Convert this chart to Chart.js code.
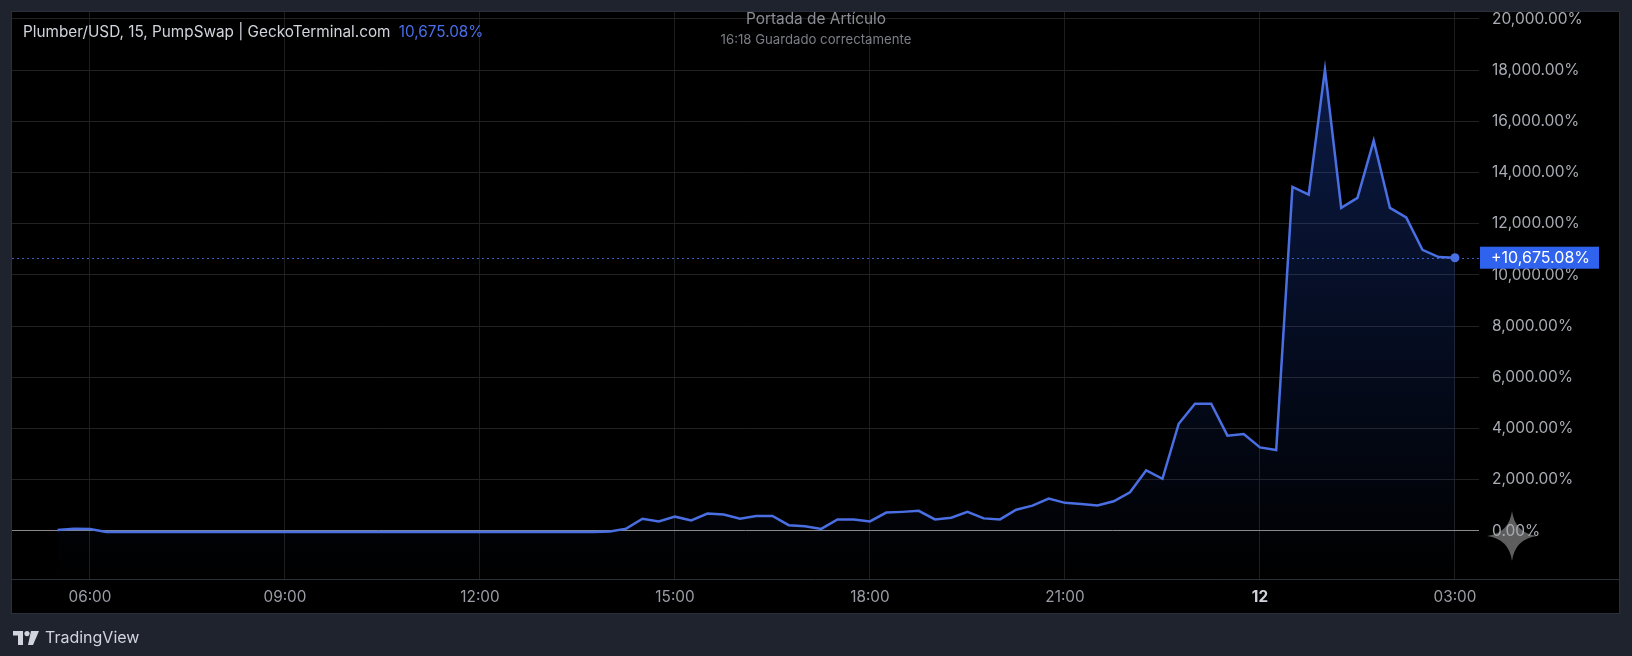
<!DOCTYPE html>
<html><head><meta charset="utf-8">
<script src="https://cdn.jsdelivr.net/npm/chart.js@4.4.1/dist/chart.umd.min.js"></script>
<style>
html,body{margin:0;padding:0;background:#1f232e;width:1632px;height:656px;overflow:hidden;font-family:Inter,"Noto Sans",sans-serif;}
canvas{position:absolute;left:0;top:0;}
.t{position:absolute;white-space:nowrap;}
</style></head><body>
<canvas id="c" width="1632" height="656"></canvas>
<div class="t" style="left:23px;top:23px;font-size:15.3px;line-height:18px;color:#d1d4dc;">Plumber/USD, 15, PumpSwap | GeckoTerminal.com <span style="color:#4a6ee8;margin-left:4px">10,675.08%</span></div>
<div class="t" style="left:816px;top:10px;transform:translateX(-50%);font-size:15.4px;line-height:18px;color:#8b8e96;">Portada de Artículo</div>
<div class="t" style="left:816px;top:31px;transform:translateX(-50%);font-size:13.2px;line-height:16px;color:#7b7e86;">16:18 Guardado correctamente</div>
<div class="t" style="left:13px;top:628px;font-size:16px;line-height:19px;color:#d1d4dc;display:flex;align-items:center;">
<svg width="26" height="14" viewBox="0 0 26 14" style="margin-right:6px"><path d="M0 0h10v14H5V4.5H0z" fill="#d1d4dc"/><circle cx="14" cy="2.6" r="2.6" fill="#d1d4dc"/><path d="M18 0h8l-6 14h-5z" fill="#d1d4dc"/></svg>TradingView</div>
<script>
// 15-minute closes, % change (05:30 day 11 → 03:00 day 12)
const timeLabels = ["05:30","05:45","06:00","06:15","06:30","06:45","07:00","07:15","07:30","07:45","08:00","08:15","08:30","08:45","09:00","09:15","09:30","09:45","10:00","10:15","10:30","10:45","11:00","11:15","11:30","11:45","12:00","12:15","12:30","12:45","13:00","13:15","13:30","13:45","14:00","14:15","14:30","14:45","15:00","15:15","15:30","15:45","16:00","16:15","16:30","16:45","17:00","17:15","17:30","17:45","18:00","18:15","18:30","18:45","19:00","19:15","19:30","19:45","20:00","20:15","20:30","20:45","21:00","21:15","21:30","21:45","22:00","22:15","22:30","22:45","23:00","23:15","23:30","23:45","00:00","00:15","00:30","00:45","01:00","01:15","01:30","01:45","02:00","02:15","02:30","02:45","03:00"];
const pctValues = [40,90,80,-40,-40,-40,-40,-40,-40,-40,-40,-40,-40,-40,-40,-40,-40,-40,-40,-40,-40,-40,-40,-40,-40,-40,-40,-40,-40,-40,-40,-40,-40,-40,-20,93,480,373,560,413,680,640,480,587,587,227,187,80,453,453,373,720,747,787,453,520,747,493,453,830,990,1265,1100,1050,1000,1160,1510,2370,2040,4190,4975,4975,3725,3790,3265,3160,13440,13140,18020,12620,13010,15245,12620,12250,10980,10700,10675.08];
const xTickHours = [6,9,12,15,18,21,24,27];
const xTickLabels = ["06:00","09:00","12:00","15:00","18:00","21:00","12","03:00"];
const yTickValues = [0,2000,4000,6000,8000,10000,12000,14000,16000,18000,20000];

// convert HH:MM labels to continuous hours
const hours = [];
let dayOffset = 0, prevH = -1;
timeLabels.forEach(s => {
  const [hh, mm] = s.split(':').map(Number);
  let h = hh + mm / 60;
  if (h + dayOffset < prevH) dayOffset += 24;
  h += dayOffset; prevH = h; hours.push(h);
});
const points = hours.map((h, i) => ({x: h, y: pctValues[i]}));
const lastIdx = pctValues.length - 1;
const lastVal = pctValues[lastIdx];
const fmt = v => v.toLocaleString('en-US', {minimumFractionDigits: 2, maximumFractionDigits: 2}) + '%';

const LINE = '#4a6fe3';
const FONT = 'Inter, "Noto Sans", sans-serif';

const decor = {
  id: 'decor',
  beforeDraw(chart) {
    const {ctx, chartArea: a, scales} = chart;
    ctx.save();
    ctx.fillStyle = '#000';
    ctx.fillRect(a.left, a.top, 1619 - a.left, 613 - a.top);
    ctx.strokeStyle = '#2b2f3a'; ctx.lineWidth = 1;
    ctx.strokeRect(a.left - 0.5, a.top - 0.5, 1619 - a.left + 1, 613 - a.top + 1);
    // star watermark under zero label
    const cx = a.right + 33, cy = scales.y.getPixelForValue(0) + 5;
    ctx.fillStyle = '#5e5e5e';
    ctx.beginPath();
    ctx.moveTo(cx, cy - 25);
    ctx.quadraticCurveTo(cx + 3, cy - 3, cx + 25, cy);
    ctx.quadraticCurveTo(cx + 3, cy + 3, cx, cy + 25);
    ctx.quadraticCurveTo(cx - 3, cy + 3, cx - 25, cy);
    ctx.quadraticCurveTo(cx - 3, cy - 3, cx, cy - 25);
    ctx.fill();
    ctx.restore();
  },
  beforeDatasetsDraw(chart) {
    const {ctx, chartArea: a, scales} = chart;
    const y = Math.round(scales.y.getPixelForValue(lastVal)) + 0.5;
    ctx.save();
    ctx.strokeStyle = 'rgba(74,111,227,0.85)';
    ctx.setLineDash([2, 3]); ctx.lineWidth = 1;
    ctx.beginPath(); ctx.moveTo(a.left, y); ctx.lineTo(a.right, y); ctx.stroke();
    ctx.restore();
  },
  afterDraw(chart) {
    const {ctx, chartArea: a, scales} = chart;
    const y = scales.y.getPixelForValue(lastVal);
    ctx.save();
    // x-axis separator
    ctx.strokeStyle = '#2b2f3a'; ctx.lineWidth = 1;
    ctx.beginPath(); ctx.moveTo(a.left, a.bottom + 0.5); ctx.lineTo(1619, a.bottom + 0.5); ctx.stroke();
    // price label
    ctx.fillStyle = '#2f63ee';
    ctx.fillRect(a.right + 1, y - 11, 119, 22);
    ctx.fillStyle = '#ffffff';
    ctx.font = '16px ' + FONT;
    ctx.textBaseline = 'middle'; ctx.textAlign = 'left';
    ctx.fillText('+' + fmt(lastVal), a.right + 12, y + 0.5);
    ctx.restore();
  }
};

new Chart(document.getElementById('c'), {
  type: 'line',
  data: {
    datasets: [{
      data: points,
      borderColor: LINE,
      borderWidth: 2.5,
      tension: 0,
      pointRadius: ctx => ctx.dataIndex === lastIdx ? 4.5 : 0,
      pointBackgroundColor: LINE,
      pointBorderWidth: 0,
      fill: 'start',
      backgroundColor: ctx => {
        const a = ctx.chart.chartArea;
        if (!a) return 'rgba(41,98,255,0.1)';
        const g = ctx.chart.ctx.createLinearGradient(0, a.top, 0, a.bottom);
        g.addColorStop(0, 'rgba(41,98,255,0.30)');
        g.addColorStop(1, 'rgba(41,98,255,0.0)');
        return g;
      }
    }]
  },
  options: {
    responsive: false,
    animation: false,
    devicePixelRatio: 1,
    layout: {padding: {left: 12, top: 12, right: 0, bottom: 43}},
    plugins: {legend: {display: false}, tooltip: {enabled: false}},
    scales: {
      x: {
        type: 'linear',
        min: 4.8, max: 27.37,
        afterBuildTicks: s => { s.ticks = xTickHours.map(v => ({value: v})); },
        afterFit: s => { s.height = 34; s.paddingLeft = 0; s.paddingRight = 0; },
        grid: {color: '#1e1e1e', drawTicks: false},
        border: {display: false},
        ticks: {
          autoSkip: false, maxRotation: 0, padding: 9,
          callback: v => xTickLabels[xTickHours.indexOf(v)],
          color: ctx => ctx.tick && ctx.tick.value === 24 ? '#d1d4dc' : '#9a9da5',
          font: ctx => ({family: FONT, size: 15.3, weight: ctx.tick && ctx.tick.value === 24 ? 'bold' : 'normal'})
        }
      },
      y: {
        position: 'right',
        min: -1875, max: 20273,
        afterBuildTicks: s => { s.ticks = yTickValues.map(v => ({value: v})); },
        afterFit: s => { s.width = 153; s.paddingTop = 0; s.paddingBottom = 0; },
        grid: {
          color: ctx => ctx.tick && ctx.tick.value === 0 ? '#8a8a8a' : '#222222',
          drawTicks: false
        },
        border: {display: false},
        ticks: {
          padding: 13,
          color: '#a8abb3',
          font: {family: FONT, size: 15.5},
          callback: v => fmt(v)
        }
      }
    }
  },
  plugins: [decor]
});
</script>
</body></html>
